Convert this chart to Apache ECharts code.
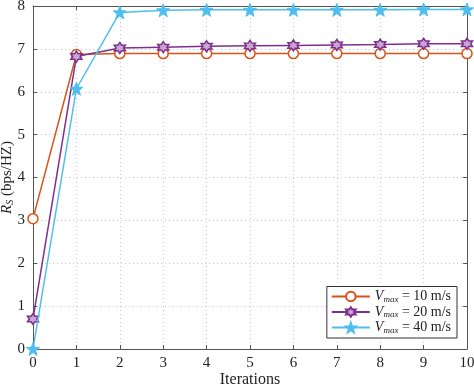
<!DOCTYPE html>
<html><head><meta charset="utf-8">
<script src="https://cdn.jsdelivr.net/npm/echarts@6/dist/echarts.min.js"></script>
<style>html,body{margin:0;padding:0;background:#fff}#c{width:474px;height:385px}</style>
</head><body><div id="c"></div>
<script>
const iterations = [0,1,2,3,4,5,6,7,8,9,10];
const v10 = [3.04,6.87,6.89,6.89,6.89,6.89,6.89,6.89,6.89,6.89,6.89];
const v20 = [0.70,6.82,7.02,7.04,7.06,7.07,7.08,7.09,7.10,7.12,7.12];
const v40 = [0.00,6.07,7.85,7.90,7.91,7.91,7.91,7.91,7.91,7.92,7.92];
const xTicks = [0,1,2,3,4,5,6,7,8,9,10];
const yTicks = [0,1,2,3,4,5,6,7,8];

function starPath(n, rOut, rIn){
  let s='';
  for(let i=0;i<2*n;i++){
    const r = i%2===0 ? rOut : rIn;
    const a = -Math.PI/2 + i*Math.PI/n;
    s += (i===0?'M':'L') + (r*Math.cos(a)+10).toFixed(2)+','+(r*Math.sin(a)+10).toFixed(2)+' ';
  }
  return 'path://'+s+'Z';
}
const penta = starPath(5,10,4);
const hexa = starPath(6,10,5.8);
const FONT = 'Liberation Serif';
const C1='#D95319', C2='#7E2F8E', C3='#4DBEEE';
const pairs = arr => iterations.map((x,i)=>[x,arr[i]]);
const chart = echarts.init(document.getElementById('c'));
const axisCommon = {
  axisLine:{show:true,onZero:false,lineStyle:{color:'#555',width:1}},
  axisTick:{show:true,inside:true,length:4,lineStyle:{color:'#555'}},
};
chart.setOption({
  animation:false,
  textStyle:{fontFamily:FONT},
  grid:{left:33,right:7,top:6,bottom:36,containLabel:false,outerBoundsMode:'none'},
  xAxis:[{
    type:'value',min:0,max:10,interval:1,
    ...axisCommon,
    axisLabel:{color:'#222',fontSize:15,fontFamily:FONT,margin:7,formatter:v=>xTicks.includes(v)?String(v):''},
    splitLine:{show:true,lineStyle:{type:[1,3],color:'#c8c8c8'}},
    name:'Iterations',nameLocation:'middle',nameGap:23,nameMoveOverlap:false,
    nameTextStyle:{color:'#222',fontSize:16,fontFamily:FONT}
  },{
    type:'value',min:0,max:10,interval:1,position:'top',
    ...axisCommon,axisLabel:{show:false},splitLine:{show:false}
  }],
  yAxis:[{
    type:'value',min:0,max:8,interval:1,
    ...axisCommon,
    axisLabel:{color:'#222',fontSize:15,fontFamily:FONT,margin:8,formatter:v=>yTicks.includes(v)?String(v):''},
    splitLine:{show:true,lineStyle:{type:[1,3],color:'#c8c8c8'}},
    name:'{i|R}{s|S} (bps/HZ)',nameLocation:'middle',nameGap:18,nameRotate:90,nameMoveOverlap:false,
    nameTextStyle:{color:'#222',fontSize:15,fontFamily:FONT,
      rich:{i:{fontStyle:'italic',fontSize:15,fontFamily:FONT,color:'#222'},
            s:{fontStyle:'italic',fontSize:10,fontFamily:FONT,color:'#222',verticalAlign:'bottom',padding:[6,0,0,0]}}}
  },{
    type:'value',min:0,max:8,interval:1,position:'right',
    ...axisCommon,axisLabel:{show:false},splitLine:{show:false}
  }],
  legend:{
    orient:'vertical',right:17,bottom:47,
    backgroundColor:'#fff',borderColor:'#333',borderWidth:1,borderRadius:0,
    padding:[3,6,3,4],itemGap:1,itemWidth:38,itemHeight:12,
    textStyle:{fontSize:14,fontFamily:FONT,color:'#222',
      rich:{v:{fontStyle:'italic',fontSize:14,fontFamily:FONT,color:'#222'},
            m:{fontStyle:'italic',fontSize:9,fontFamily:FONT,color:'#222',padding:[6,0,0,0]},
            t:{fontSize:14,fontFamily:FONT,color:'#222'}}},
    formatter:name=>{
      const num=name.match(/\d+/)[0];
      return '{v|V}{m|max}{t| = '+num+' m/s}';
    },
    data:['Vmax = 10 m/s','Vmax = 20 m/s','Vmax = 40 m/s']
  },
  series:[
    {name:'Vmax = 10 m/s',type:'line',data:pairs(v10),symbol:'circle',symbolSize:10,
     lineStyle:{color:C1,width:1.5},itemStyle:{color:'#fff',borderColor:C1,borderWidth:1.5},z:3},
    {name:'Vmax = 20 m/s',type:'line',data:pairs(v20),symbol:hexa,symbolSize:11,
     lineStyle:{color:C2,width:1.5},itemStyle:{color:'#c9a6d1',borderColor:C2,borderWidth:1.5},z:4},
    {name:'Vmax = 40 m/s',type:'line',data:pairs(v40),symbol:penta,symbolSize:13,
     lineStyle:{color:C3,width:1.5},itemStyle:{color:C3,borderColor:C3,borderWidth:1},z:5}
  ]
});
</script></body></html>
